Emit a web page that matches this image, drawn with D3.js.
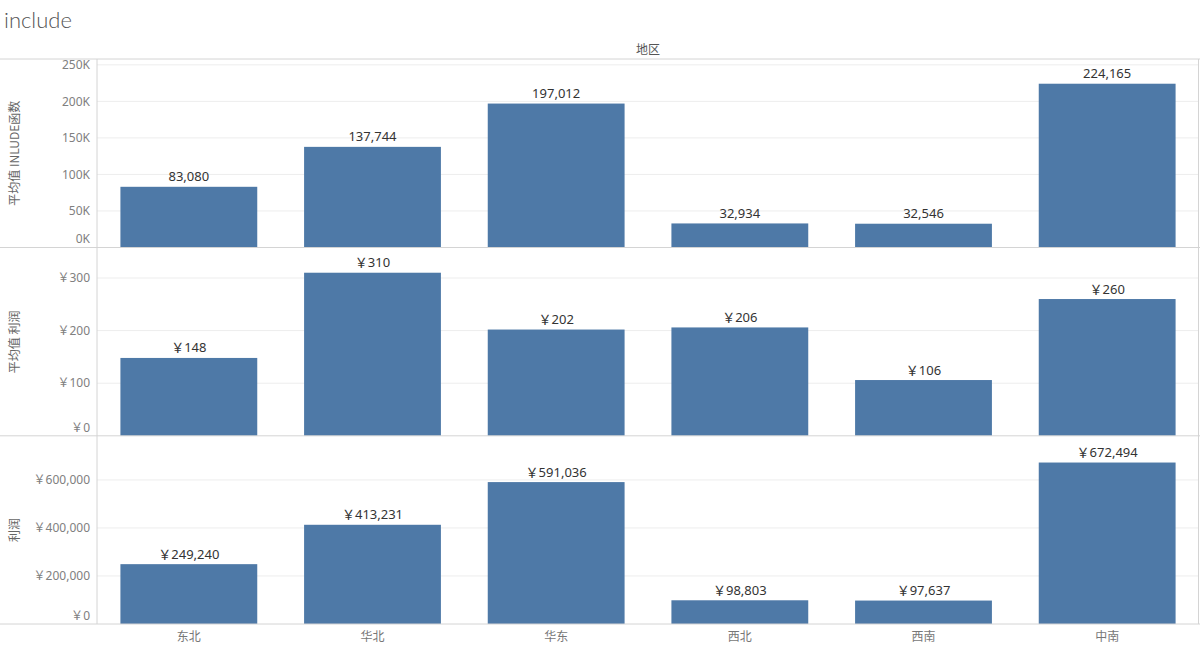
<!DOCTYPE html>
<html><head><meta charset="utf-8">
<script src="https://cdn.jsdelivr.net/npm/d3@7"></script>
<style>
body{margin:0;background:#fff;}
svg{display:block;font-family:"Noto Sans","Noto Sans CJK SC",sans-serif;}
</style></head><body>
<svg id="c" width="1200" height="646"></svg>
<script>
const categories = ["东北","华北","华东","西北","西南","中南"];
const includeAvg = [83080, 137744, 197012, 32934, 32546, 224165];
const profitAvg = [148, 310, 202, 206, 106, 260];
const profitSum = [249240, 413231, 591036, 98803, 97637, 672494];
const ticks1 = [0, 50000, 100000, 150000, 200000, 250000];
const ticks2 = [0, 100, 200, 300];
const ticks3 = [0, 200000, 400000, 600000];

const svg = d3.select("#c");
const W = 1200, left = 97, right = 1199;
const x = d3.scaleBand().domain(categories).range([left, right]).paddingInner(0.255).paddingOuter(0.1275);

svg.append("text").attr("x", 4).attr("y", 28).text("include")
  .attr("font-size", 22).attr("font-family", "Lato, sans-serif").attr("font-weight", 300).attr("fill", "#555");

svg.append("text").attr("x", 648).attr("y", 54).attr("text-anchor", "middle")
  .attr("font-size", 12).attr("fill", "#555").attr("font-family", "Noto Sans CJK SC").text("地区");

const comma = d3.format(",");
const panels = [
  {data: includeAvg, domain: [0, 258000], top: 59, bottom: 247.5, ticks: ticks1,
   yen: false, tfmt: d => comma(d/1000) + "K", title: "平均值 INLUDE函数"},
  {data: profitAvg, domain: [0, 357], top: 248, bottom: 435.8, ticks: ticks2,
   yen: true, tfmt: d => comma(d), title: "平均值 利润"},
  {data: profitSum, domain: [0, 783000], top: 436, bottom: 624, ticks: ticks3,
   yen: true, tfmt: d => comma(d), title: "利润"}
];

function addText(sel, yen, str) {
  if (yen) sel.append("tspan").attr("font-family", "Noto Sans CJK SC").text("￥");
  sel.append("tspan").text(str);
}

panels.forEach(p => {
  const y = d3.scaleLinear().domain(p.domain).range([p.bottom, p.top]);
  const g = svg.append("g");
  g.selectAll("line.grid").data(p.ticks.filter(t => t > 0)).join("line")
    .attr("x1", left).attr("x2", right).attr("y1", d => y(d)).attr("y2", d => y(d))
    .attr("stroke", "#ededed").attr("stroke-width", 1);
  g.selectAll("text.tick").data(p.ticks).join("text")
    .attr("x", 90).attr("y", d => Math.min(y(d), p.bottom - 8.5))
    .attr("dy", "0.35em").attr("text-anchor", "end")
    .attr("font-size", 12).attr("fill", "#808080")
    .each(function(d){ addText(d3.select(this), p.yen, p.tfmt(d)); });
  g.selectAll("rect").data(p.data).join("rect")
    .attr("x", (d, i) => x(categories[i])).attr("width", x.bandwidth())
    .attr("y", d => y(d)).attr("height", d => y(0) - y(d))
    .attr("fill", "#4e79a7");
  g.selectAll("text.val").data(p.data).join("text")
    .attr("x", (d, i) => x(categories[i]) + x.bandwidth()/2)
    .attr("y", d => y(d) - 10).attr("dy", "0.35em").attr("text-anchor", "middle")
    .attr("font-size", 13).attr("fill", "#333")
    .each(function(d){ addText(d3.select(this), p.yen, comma(d)); });
  const cy = (p.top + p.bottom) / 2;
  g.append("text").attr("transform", `translate(15,${cy}) rotate(-90)`)
    .attr("text-anchor", "middle").attr("dy", "0.35em")
    .attr("font-size", 12).attr("fill", "#666").attr("font-family", "Noto Sans CJK SC")
    .text(p.title);
  svg.append("line").attr("x1", 0).attr("x2", W).attr("y1", p.bottom).attr("y2", p.bottom)
    .attr("stroke", "#d4d4d4");
});

svg.append("line").attr("x1", 0).attr("x2", W).attr("y1", 59).attr("y2", 59).attr("stroke", "#d4d4d4");
svg.append("line").attr("x1", left).attr("x2", left).attr("y1", 59).attr("y2", 624).attr("stroke", "#d4d4d4");
svg.append("line").attr("x1", 1198.5).attr("x2", 1198.5).attr("y1", 59).attr("y2", 624).attr("stroke", "#d4d4d4");

svg.selectAll("text.cat").data(categories).join("text")
  .attr("x", d => x(d) + x.bandwidth()/2).attr("y", 637).attr("dy", "0.35em")
  .attr("text-anchor", "middle").attr("font-size", 12).attr("fill", "#777")
  .attr("font-family", "Noto Sans CJK SC").text(d => d);
</script>
</body></html>
